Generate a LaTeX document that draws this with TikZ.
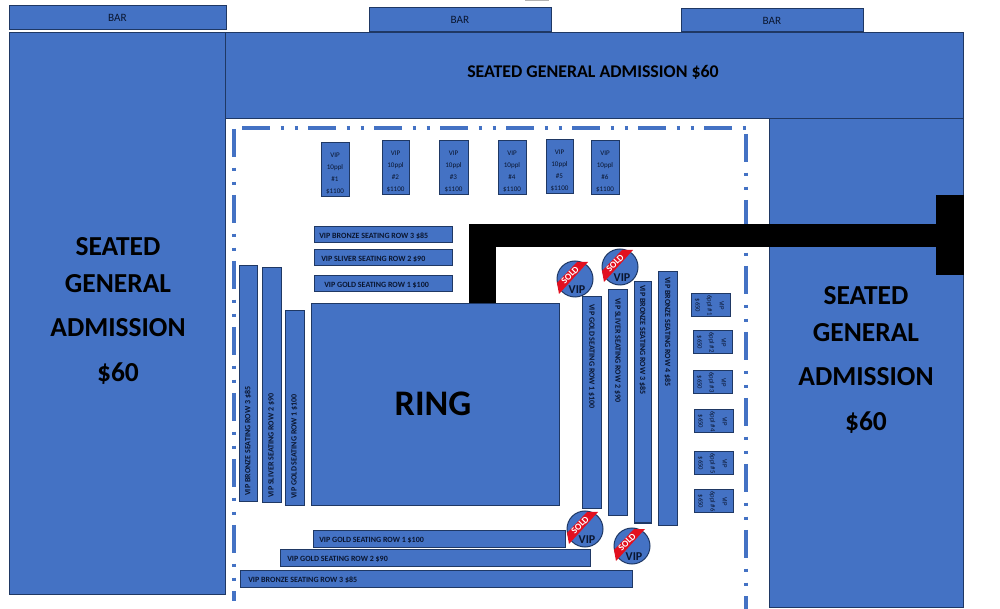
\documentclass[tikz,border=0pt]{standalone}
\usepackage{fontspec}
\setmainfont{Carlito}
\usepackage{tikz}
\usetikzlibrary{positioning}
\definecolor{seatblue}{HTML}{4472C4}
\definecolor{seatedge}{HTML}{1F3864}
\definecolor{seatink}{HTML}{0A1630}
\definecolor{soldred}{HTML}{E2101F}
\tikzset{
	zone/.style={draw=seatedge,fill=seatblue,line width=0.75pt},
	bigtext/.style={text=black,font=\bfseries\fontsize{20.6}{27.7}\selectfont,align=center},
	rowtext/.style={text=seatink,font=\bfseries\fontsize{6}{7}\selectfont,inner sep=0pt},
	tabletext/.style={text=seatink,font=\fontsize{5.3}{9}\selectfont,align=center,inner sep=0pt},
	fence/.style={draw=seatblue,line width=2.6pt,dash pattern=on 21pt off 7.9pt on 2.6pt off 7.9pt on 2.6pt off 7.5pt},
}
\begin{document}
\begin{tikzpicture}[x=0.75pt,y=-0.75pt]
			\useasboundingbox (0,0) rectangle (1000,609);
			\fill[gray!60] (525,0) rectangle (549,1);
			% bars
			\foreach \name/\xa/\ya/\xb/\yb in {barL/9/6/226/30,barM/369/8/551/32,barR/681/9/863/32}
				\draw[zone] (\xa,\ya) rectangle (\xb,\yb) node[midway,text=seatink,font=\fontsize{8.4}{9}\selectfont] (\name) {BAR};
			% seated general admission
			\draw[zone] (9,33) rectangle (225,594);
			\draw[zone] (225,33) rectangle (963,119);
			\draw[zone] (769,119) rectangle (963,607);
			\node[text=black,font=\bfseries\fontsize{13.4}{15}\selectfont] (seatedTop) at (593,72) {SEATED GENERAL ADMISSION \$60};
			\foreach \name/\xc/\yc in {seatedL/118/311,seatedR/866/360}
				\node[bigtext] (\name) at (\xc,\yc) {SEATED\\GENERAL\\[5.3pt]ADMISSION\\[5.8pt]\$60};
			% fence
			\coordinate (fenceSW) at (234,601);
			\coordinate (fenceNW) at (234,129);
			\coordinate (fenceTL) at (242,128);
			\coordinate (fenceTR) at (747,128);
			\coordinate (fenceNE) at (746,134);
			\coordinate (fenceSE) at (746,609);
			\draw[fence] (fenceNW) -- (fenceSW);
			\draw[fence] (fenceTL) -- (fenceTR);
			\draw[fence] (fenceNE) -- (fenceSE);
			% black wall
			\fill[black] (469,224) rectangle (936,247);
			\fill[black] (469,224) rectangle (496,304);
			\fill[black] (936,195) rectangle (964,275);
			% ring
			\draw[zone] (311,304) rectangle (559,506) node[midway,xshift=-1.5pt,yshift=0.8pt,text=black,font=\bfseries\fontsize{27}{30}\selectfont] (ring) {RING};
			% vip tables
			\foreach \name/\xa/\ya/\xb/\yb/\n in {tableA/321/143/349/197/1,tableB/382/141/409/195/2,tableC/439/141/468/195/3,tableD/498/141/526/195/4,tableE/546/140/573/194/5,tableF/591/141/619/195/6}
				\draw[zone] (\xa,\ya) rectangle (\xb,\yb) node[midway,yshift=-2.5pt,tabletext] (\name) {VIP\\10ppl\\\#\n\\\$1100};
			% side tables
			\foreach \name/\xa/\ya/\xb/\yb/\n in {sideA/691/294/730/317/1,sideB/693/331/732/354/2,sideC/693/371/732/394/3,sideD/694/410/733/433/4,sideE/694/452/733/475/5,sideF/694/490/733/513/6}
				\draw[zone] (\xa,\ya) rectangle (\xb,\yb) node[midway,tabletext,rotate=-90,yshift=-0.8pt,font=\fontsize{5}{9}\selectfont] (\name) {VIP\\6ppl \#\n\\\$650};
			% rows across
			\foreach \name/\xa/\ya/\xb/\yb/\xt/\txt in {rowNB/314/227/452/243/319/VIP BRONZE SEATING ROW 3 \$85,rowNS/314/250/452/266/321/VIP SLIVER SEATING ROW 2 \$90,rowNG/314/276/452/292/324/VIP GOLD SEATING ROW 1 \$100,rowSG/313/530/565/547/319/VIP GOLD SEATING ROW 1 \$100,rowSS/280/549/590/566/287/VIP GOLD SEATING ROW 2 \$90,rowSB/240/570/632/587/248/VIP BRONZE SEATING ROW 3 \$85}{
				\draw[zone] (\xa,\ya) rectangle (\xb,\yb);
				\node[rowtext,anchor=west] (\name) at (\xt,{(\ya+\yb)/2+1.5}) {\txt};
			}
			% rows going down
			\foreach \name/\xa/\ya/\xb/\yb/\yt/\txt in {rowWB/239/266/257/502/496/VIP BRONZE SEATING ROW 3 \$85,rowWS/262/268/281/503/498/VIP SLIVER SEATING ROW 2 \$90,rowWG/285/311/304/506/499/VIP GOLD SEATING ROW 1 \$100}{
				\draw[zone] (\xa,\ya) rectangle (\xb,\yb);
				\node[rowtext,anchor=west,rotate=90] (\name) at ({(\xa+\xb)/2},\yt) {\txt};
			}
			\foreach \name/\xa/\ya/\xb/\yb/\yt/\txt in {rowEG/582/297/601/509/304/VIP GOLD SEATING ROW 1 \$100,rowES/608/290/627/516/298/VIP SLIVER SEATING ROW 2 \$90,rowEB/634/282/651/523/285/VIP BRONZE SEATING ROW 3 \$85,rowEF/658/272/677/525/277/VIP BRONZE SEATING ROW 4 \$85}{
				\draw[zone] (\xa,\ya) rectangle (\xb,\yb);
				\node[rowtext,anchor=west,rotate=-90] (\name) at ({(\xa+\xb)/2},\yt) {\txt};
			}
			% sold circles
			\foreach \name/\xc/\yc in {soldA/575/279,soldB/620/267,soldC/585/529,soldD/632/546}{
				\begin{scope}[shift={(\xc,\yc)}]
					\node[circle,draw=seatedge,fill=seatblue,line width=0.75pt,minimum size=27pt,inner sep=0pt] (\name) at (0,0) {};
					\fill[soldred] (2,-17) -- (13,-17) -- (-16,15) -- (-18,4) -- cycle;
					\node[rotate=45,text=white,font=\bfseries\fontsize{7}{8}\selectfont,inner sep=0pt] (\name text) at (-5,-4) {SOLD};
					\node[text=seatink,font=\bfseries\fontsize{9}{10}\selectfont,inner sep=0pt] (\name vip) at (2,10.5) {VIP};
				\end{scope}
			}
\end{tikzpicture}
\end{document}
